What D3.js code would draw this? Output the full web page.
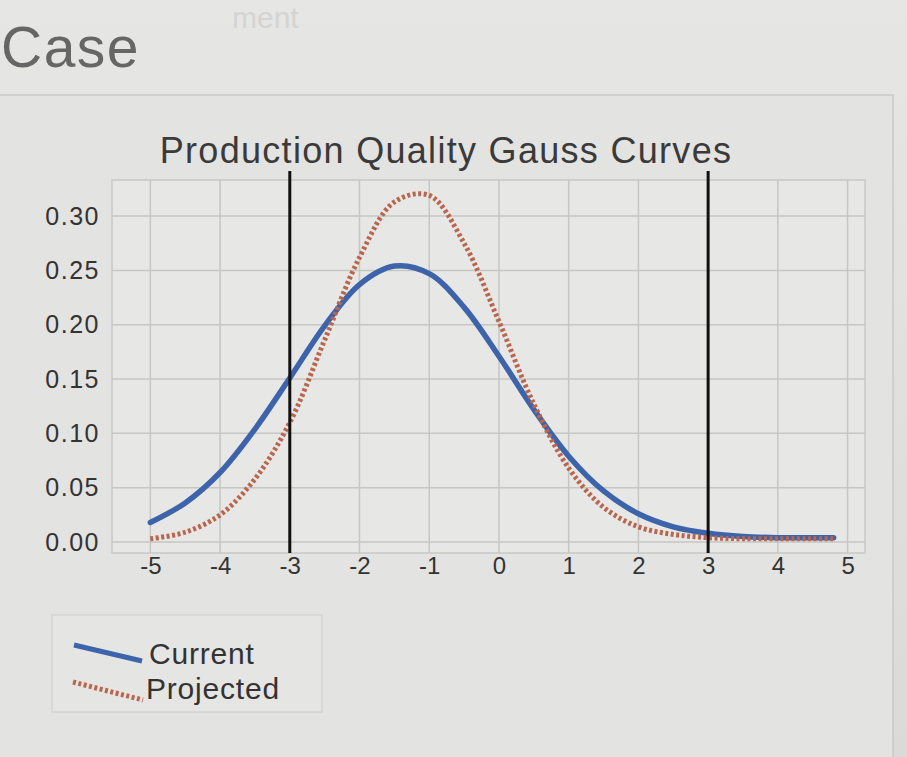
<!DOCTYPE html>
<html>
<head>
<meta charset="utf-8">
<script src="https://cdn.jsdelivr.net/npm/d3@7"></script>
<style>
  html, body { margin: 0; padding: 0; }
  body { width: 907px; height: 757px; overflow: hidden; background: #e2e2e0; }
  text { font-family: "Liberation Sans", Arial, sans-serif; }
</style>
</head>
<body>
<div id="chart"></div>
<script>
//--------------------------------------------------------------
// DATA
//--------------------------------------------------------------
var xValues = [-5, -4.5, -4, -3.5, -3, -2.5, -2, -1.5, -1, -0.5, 0, 0.5, 1, 1.5, 2, 2.5, 3, 3.5, 4, 4.5, 4.8];
var currentValues = [0.018, 0.036, 0.064, 0.104, 0.151, 0.199, 0.237, 0.254, 0.247, 0.216, 0.171, 0.122, 0.079, 0.047, 0.026, 0.014, 0.008, 0.005, 0.004, 0.004, 0.004];
var projectedValues = [0.003, 0.009, 0.025, 0.058, 0.110, 0.186, 0.262, 0.313, 0.319, 0.275, 0.203, 0.127, 0.068, 0.032, 0.014, 0.007, 0.004, 0.003, 0.003, 0.003, 0.003];
var limitValues = [-3, 3];
var xTicks = [-5, -4, -3, -2, -1, 0, 1, 2, 3, 4, 5];
var yTicks = [0, 0.05, 0.10, 0.15, 0.20, 0.25, 0.30];
var seriesNames = ["Current", "Projected"];

//--------------------------------------------------------------
// SIZE
//--------------------------------------------------------------
var width = 907;
var height = 757;
var plot = { left: 112, right: 865, top: 180, bottom: 553 };

var svg = d3.select("#chart").append("svg")
   .attr("width", width)
   .attr("height", height);

// page background, slightly darker towards the bottom
var defs = svg.append("defs");
var grad = defs.append("linearGradient").attr("id", "bg").attr("x1", 0).attr("y1", 0).attr("x2", 0).attr("y2", 1);
grad.append("stop").attr("offset", "0%").attr("stop-color", "#e6e6e4");
grad.append("stop").attr("offset", "100%").attr("stop-color", "#dadad8");
svg.append("rect").attr("width", width).attr("height", height).attr("fill", "url(#bg)");

// heading text above the panel
svg.append("text")
   .attr("x", 232).attr("y", 28)
   .attr("font-size", 30)
   .attr("fill", "#d4d4d2")
   .text("ment");
svg.append("text")
   .attr("x", 1).attr("y", 67)
   .attr("font-size", 57)
   .attr("letter-spacing", 1.5)
   .attr("fill", "#666")
   .text("Case");

// panel
svg.append("rect")
   .attr("x", -5).attr("y", 95)
   .attr("width", 898).attr("height", 700)
   .attr("fill", "#e3e3e1")
   .attr("stroke", "#c9c9c7")
   .attr("stroke-width", 1.5);

//--------------------------------------------------------------
// SCALES
//--------------------------------------------------------------
var xScale = d3.scaleLinear().domain([-5.55, 5.25]).range([plot.left, plot.right]);
var yScale = d3.scaleLinear().domain([-0.0101, 0.3332]).range([plot.bottom, plot.top]);

// plot area
svg.append("rect")
   .attr("x", plot.left).attr("y", plot.top)
   .attr("width", plot.right - plot.left).attr("height", plot.bottom - plot.top)
   .attr("fill", "#e7e7e5")
   .attr("stroke", "#c8c8c6")
   .attr("stroke-width", 1.5);

// grid
svg.append("g").selectAll("line").data(xTicks).enter().append("line")
   .attr("x1", d => xScale(d)).attr("x2", d => xScale(d))
   .attr("y1", plot.top).attr("y2", plot.bottom)
   .attr("stroke", "#c6c6c4").attr("stroke-width", 1.5);
svg.append("g").selectAll("line").data(yTicks).enter().append("line")
   .attr("x1", plot.left).attr("x2", plot.right)
   .attr("y1", d => yScale(d)).attr("y2", d => yScale(d))
   .attr("stroke", "#c6c6c4").attr("stroke-width", 1.5);

// axes (labels only)
var leftAxis = d3.axisLeft(yScale).tickValues(yTicks).tickFormat(d3.format(".2f")).tickSize(0).tickPadding(12);
var bottomAxis = d3.axisBottom(xScale).tickValues(xTicks).tickFormat(d => String(d)).tickSize(0).tickPadding(4);

var yAxis = svg.append("g").attr("transform", `translate(${plot.left},0)`).call(leftAxis);
var xAxis = svg.append("g").attr("transform", `translate(0,${plot.bottom})`).call(bottomAxis);
yAxis.select(".domain").remove();
xAxis.select(".domain").remove();
yAxis.selectAll("text")
   .attr("font-family", "Liberation Sans, Arial, sans-serif")
   .attr("font-size", 25)
   .attr("letter-spacing", 1.5)
   .attr("fill", "#333");
xAxis.selectAll("text")
   .attr("font-family", "Liberation Sans, Arial, sans-serif")
   .attr("font-size", 24)
   .attr("fill", "#333");

// title
svg.append("text")
   .attr("x", 446).attr("y", 163)
   .attr("text-anchor", "middle")
   .attr("font-size", 36)
   .attr("letter-spacing", 1.3)
   .attr("fill", "#3a3a3a")
   .text("Production Quality Gauss Curves");

//--------------------------------------------------------------
// LINES
//--------------------------------------------------------------
var line = d3.line()
   .x((d, i) => xScale(xValues[i]))
   .y(d => yScale(d))
   .curve(d3.curveCatmullRom.alpha(0.5));

svg.append("path")
   .attr("d", line(currentValues))
   .attr("fill", "none")
   .attr("stroke", "#3d64aa")
   .attr("stroke-width", 5.5)
   .attr("stroke-linecap", "round");

svg.append("path")
   .attr("d", line(projectedValues))
   .attr("fill", "none")
   .attr("stroke", "#b9664f")
   .attr("stroke-width", 5)
   .attr("stroke-dasharray", "3,2.5");

// spec limits
svg.append("g").selectAll("line").data(limitValues).enter().append("line")
   .attr("x1", d => xScale(d)).attr("x2", d => xScale(d))
   .attr("y1", yScale(0.3415)).attr("y2", plot.bottom)
   .attr("stroke", "#111").attr("stroke-width", 3);

//--------------------------------------------------------------
// LEGEND
//--------------------------------------------------------------
svg.append("rect")
   .attr("x", 52).attr("y", 615)
   .attr("width", 270).attr("height", 97)
   .attr("fill", "#e5e5e3")
   .attr("stroke", "#d3d3d1")
   .attr("stroke-width", 1.5);

var legend = svg.append("g");
legend.append("line")
   .attr("x1", 74).attr("y1", 645).attr("x2", 142).attr("y2", 661)
   .attr("stroke", "#3d64aa").attr("stroke-width", 5);
legend.append("line")
   .attr("x1", 73).attr("y1", 682).attr("x2", 143).attr("y2", 700)
   .attr("stroke", "#b9664f").attr("stroke-width", 5)
   .attr("stroke-dasharray", "3,2.5");
legend.append("text").attr("x", 149).attr("y", 664).attr("font-size", 30).attr("letter-spacing", 0.8).attr("fill", "#333").text(seriesNames[0]);
legend.append("text").attr("x", 146).attr("y", 699).attr("font-size", 30).attr("letter-spacing", 0.8).attr("fill", "#333").text(seriesNames[1]);
</script>
</body>
</html>
